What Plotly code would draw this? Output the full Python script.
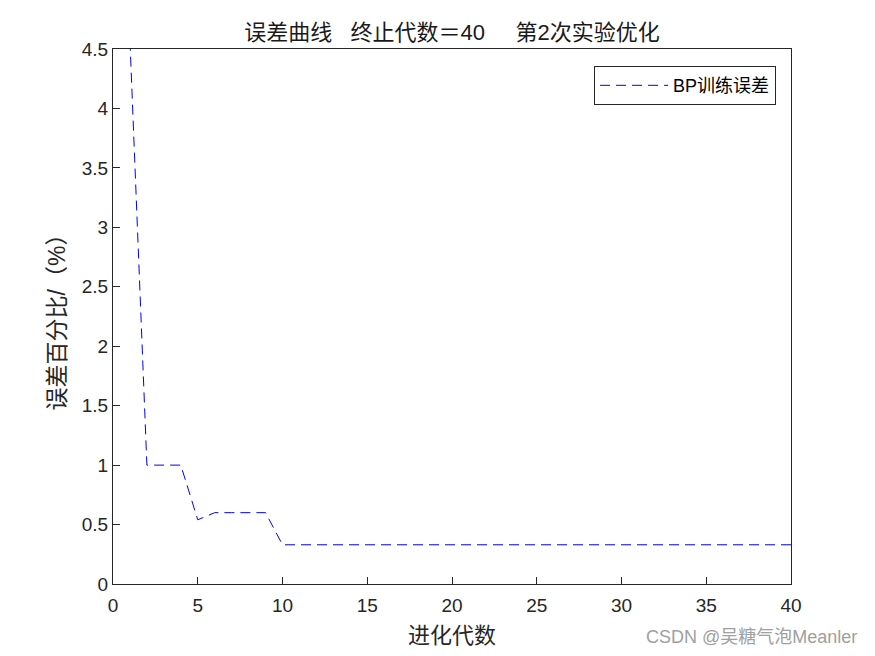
import plotly.graph_objects as go

generations = list(range(1, 41))
error_pct = [4.57, 1.0, 1.0, 1.0, 0.54, 0.6, 0.6, 0.6, 0.6] + [0.33] * 31
title_text = "误差曲线\u00a0\u00a0\u00a0终止代数＝40\u00a0\u00a0\u00a0\u00a0\u00a0第2次实验优化"
x_label = "进化代数"
y_label = "误差百分比/（%）"
series_name = "BP训练误差"
x_ticks = [0, 5, 10, 15, 20, 25, 30, 35, 40]
y_ticks = [0, 0.5, 1, 1.5, 2, 2.5, 3, 3.5, 4, 4.5]

font_fam = "Liberation Sans, Arial, Noto Sans CJK SC, sans-serif"

fig = go.Figure()
fig.add_trace(go.Scatter(
    x=generations, y=error_pct, mode="lines", name=series_name,
    line=dict(color="#0000ff", width=1, dash="10px,6px"),
))

fig.update_layout(
    width=859, height=640,
    margin=dict(l=105, r=76, t=41, b=64, autoexpand=False),
    paper_bgcolor="white", plot_bgcolor="white",
    font=dict(family=font_fam, size=19, color="#262626"),
    title=dict(text=title_text, x=0.5, xref="paper", xanchor="center",
               y=1, yref="paper", yanchor="bottom", pad=dict(b=9),
               font=dict(size=22, color="#1a1a1a")),
    showlegend=True,
    legend=dict(x=0.978, y=0.968, xanchor="right", yanchor="top",
                bgcolor="white", bordercolor="#262626", borderwidth=1,
                font=dict(size=18, color="#000000"), itemwidth=68,
                tracegroupgap=0),
)

fig.update_xaxes(
    range=[0, 40], tickvals=x_ticks, ticktext=[str(v) for v in x_ticks],
    showgrid=False, zeroline=False, showline=True, linecolor="#262626", linewidth=1,
    mirror=True, ticks="inside", ticklen=7, tickcolor="#262626",
    ticklabelstandoff=4, automargin=False,
    title=dict(text=x_label, font=dict(size=22, color="#262626"), standoff=12),
    tickfont=dict(size=19),
)
fig.update_yaxes(
    range=[0, 4.5], tickvals=y_ticks, ticktext=[f"{v:g}" for v in y_ticks],
    showgrid=False, zeroline=False, showline=True, linecolor="#262626", linewidth=1,
    mirror=True, ticks="inside", ticklen=7, tickcolor="#262626",
    automargin=False,
    title=dict(text=y_label, font=dict(size=23, color="#262626"), standoff=9),
    tickfont=dict(size=19),
)

fig.add_annotation(
    text="CSDN @吴糖气泡Meanler", xref="paper", yref="paper",
    x=(851 - 105) / 678, y=-(629 - 576) / 535, xanchor="right", yanchor="middle",
    showarrow=False, font=dict(size=18, color="#a0a0a0"),
)

fig.write_html("out.html")
